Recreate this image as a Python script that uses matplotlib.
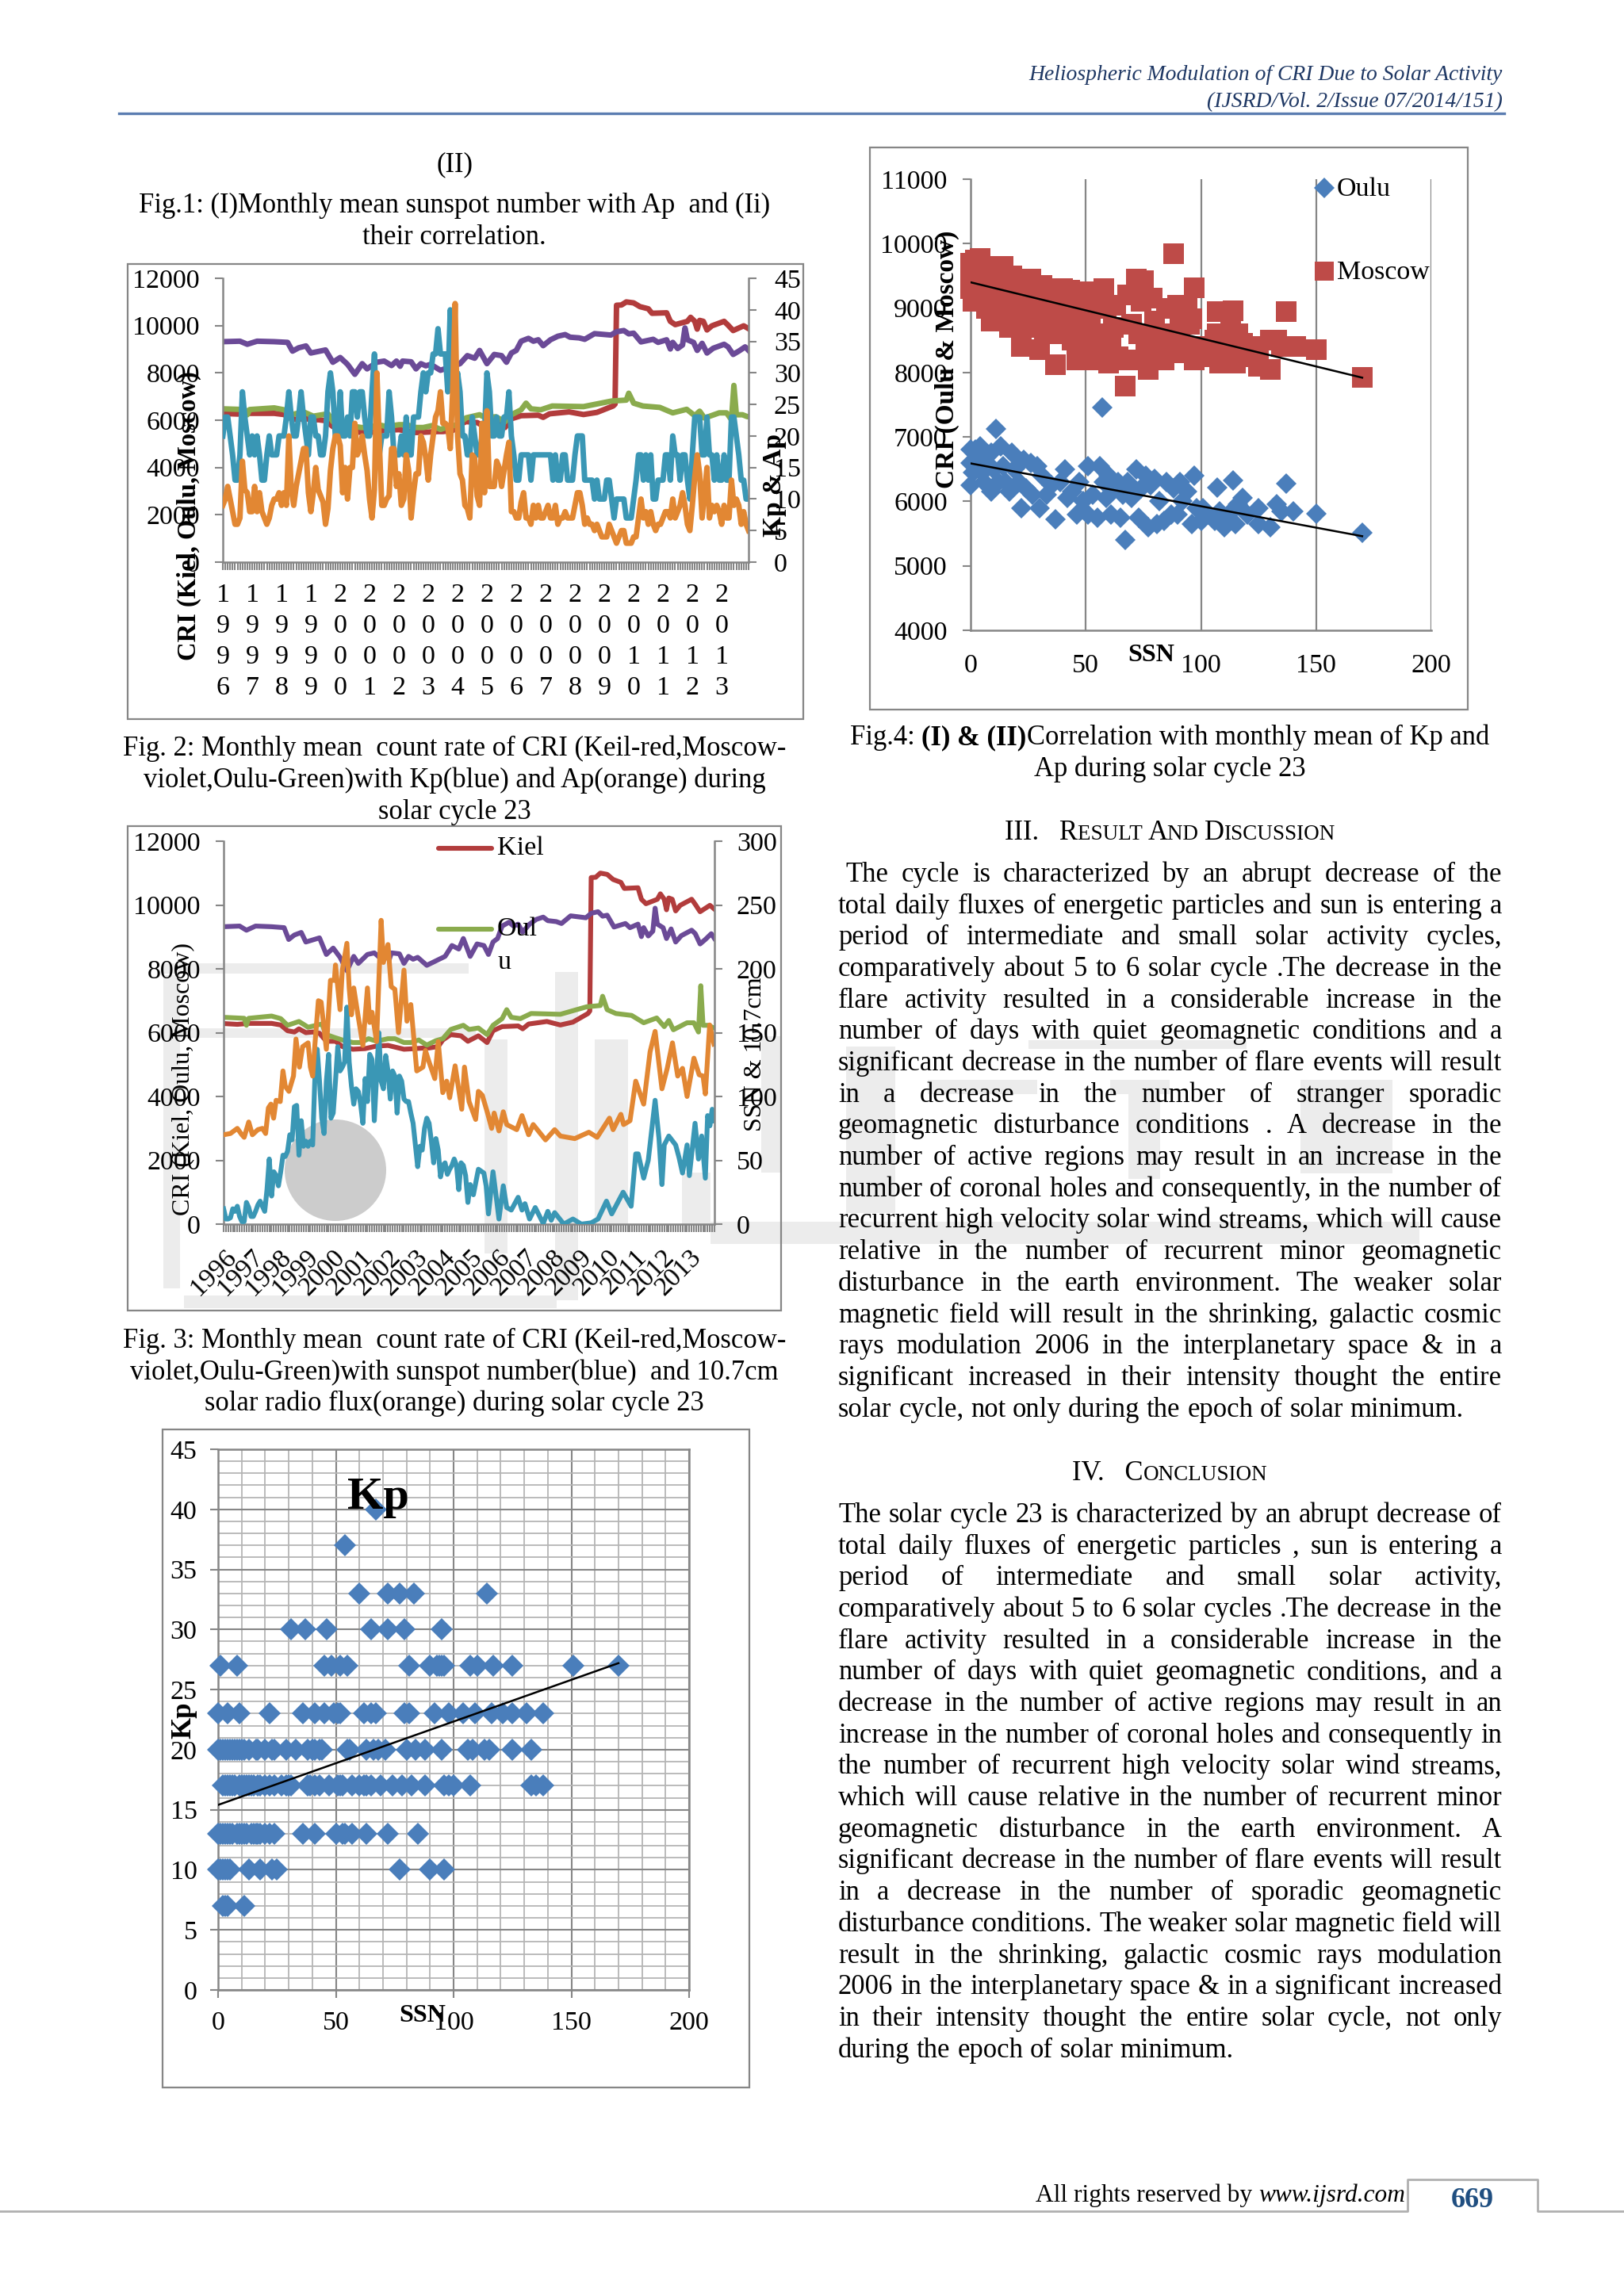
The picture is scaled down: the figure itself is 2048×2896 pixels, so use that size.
import matplotlib
matplotlib.use('Agg')
import matplotlib.pyplot as plt
from matplotlib.patches import Rectangle, Circle
import numpy as np

plt.rcParams['font.family'] = ['Liberation Serif', 'DejaVu Serif']

W, H = 2048, 2896

# ---- monthly values read from Fig. 2 / Fig. 3 (1996 -> 2013)
years = list(range(1996, 2014))

kp = [20,23,23,20,17,13,13,17,27,23,20,17,
      20,17,20,17,13,13,17,20,17,17,17,20,
      20,20,23,27,23,20,20,23,27,23,20,17,
      23,23,20,20,17,17,20,27,30,27,20,20,
      27,20,20,23,20,27,27,23,27,27,23,20,
      20,27,33,20,17,20,20,20,27,23,17,17,
      17,20,17,23,17,17,23,23,23,27,30,27,
      30,30,33,33,37,33,33,33,27,40,33,27,
      30,27,20,20,17,17,23,20,17,17,20,20,
      30,27,20,20,23,20,20,23,23,27,20,17,
      13,13,17,17,17,17,13,17,17,17,17,17,
      17,17,17,13,17,13,13,17,17,13,13,13,
      17,20,20,20,13,13,13,13,10,13,10,10,
      10,13,13,10,7,10,10,10,10,7,7,7,
      10,13,17,17,13,17,13,17,10,10,13,13,
      13,17,17,13,20,17,17,13,17,17,13,10,
      17,23,23,23,17,17,23,17,17,13,17,13,
      13,17,13,13,23,23,20,17,13,13,10,10]

ap = [9,10,12,10,8,6,6,7,16,11.5,11,8,
      8,12,8,11,8,7,6,7,9,10,10,11,
      9,11,9,20,11.5,9,12,14,16,18,18,11,
      8,11,15,11.5,10.5,9.5,6,8.5,14.5,18,20,20,
      18.5,11,15,10,15,15,22,17,18,20,17,14.5,
      10,7,11.5,30,19,9,9,10,10.5,18,18,12,
      14,9,10,17,14.5,7,11,14,14,20,19,16.5,
      13,17,20,23,24,27,22,22,21.5,18,27,41,
      20,14,13,9,8.5,7,17,16.5,10.5,9,22,11,
      24,12,12,12,16,15,12,14.5,17,19,8,8,
      7,7,9.5,11,7,7,6,9,7,9,7,7,
      8,9,7,7,9,6,7,7,8,7,7,7,
      9,11,11,9,6,7,6,6,5,6,5,4,
      4,4,6,5,4,3,4,5,5,3,3,3,
      4,4,7,10,7,8,6,8,6,5,6,6,
      7,8,8,7,10,7,8,9,11,9,6,5,
      9,13.5,17,14,7,11,15,7,9,8,9,8,
      6,9,7,7,13,9,10,9,6,8,6,5]

moscow_m = [0,7,10,14,21,26.5,28.5,31,34,36,42,45,48,51,54,57,59,63,66,69,71,72.5,73.5,77,79,81,83,85,89,
            97,100,103,105,108,111,114,116,118,120,122,125,127,129,131,134,137,140,142,145.7,148,152,158.7,
            161,164,166,168,171,176,178,181.5,183,184,186,188,189,190,192.5,194,196,198,200.5,205,206.6,208.7,211,213.6,215]
moscow = [9320,9340,9210,9340,9320,9290,8920,9060,9140,8840,8970,8450,8650,8360,7940,8390,8170,8450,8500,8310,8500,8280,8500,8470,8170,8390,8300,8360,8110,
          8390,8730,8620,8950,8390,8780,8730,8450,8840,8950,9340,9460,9340,9400,9150,9400,9550,9620,9510,9480,9420,9660,9600,
          9740,9790,9650,9680,9310,9420,9290,9400,9010,9290,9030,9180,9900,9400,9290,8950,9250,8840,9040,9210,9100,8780,8920,9100,8950]

kiel_m = [0,6,11,21,25,28,31,33,36,39,42,45,49,52,56.6,62,67,72,79,84,88,90,94,96,99.5,104,107,111.6,115.4,118,122,129,131,
          133.6,141.6,147.5,153,159.6,160.4,161,163,165,168,170.6,174,175.5,181.5,183,185,190,191.3,193,194,195,196.5,198,200,205,206.6,208.7,213,215]
kiel = [6285,6260,6290,6290,6240,6060,6020,6120,6000,6020,5980,5730,5730,5565,5480,5500,5580,5600,5480,5500,5520,5520,5565,5770,5940,5900,5730,5900,5690,6060,6190,6210,6120,
        6270,6350,6240,6330,6600,6680,10860,10870,11000,10960,10800,10710,10520,10540,10180,10040,10180,10350,10180,9850,10220,10180,9815,9990,10180,10020,9790,9990,9870]

oulu_m = [0,9,10,11,21,25,28,33,37,43,45,48.5,52,56.6,60,63.5,67,72,75,79,82,85.5,89,93,96,99.5,105,107.5,111.6,115.4,118,122,124,126,130,134.7,
          147.5,159,165,166,168,171.8,178.7,184,189.7,193,195,197,203,206,208,209,210,212.5,214.5,215]
oulu = [6480,6450,6230,6450,6520,6440,6230,6350,6170,6270,5940,5850,5770,5690,5690,5810,5730,5810,5810,5690,5690,5770,5610,5750,5810,6100,6230,6100,6145,5940,6230,6440,6720,6480,6440,6600,
        6575,6810,6850,7140,6720,6600,6540,6310,6460,6190,6380,6090,6310,6310,6020,7470,6230,6230,6150,6150]

ssn_m = list(range(109)) + [109.4,111.6,114,115,116,118,119.5,120.6,122.5,124,126,129,130.7,132,134,136.5,140,142,143.5,145,149,153,156.7,161,164,167.7,170,175,178.5,180.5,181.6,184,186,189,190.7,192,193,195,198,199.5,201,203,204,206.5,208,209.4,211,212,213,214,215]
ssn = [12,4,4,5,12,10,14,6,2,2,17,13,6,6,10,15,18,14,10,27,51,22,41,38,30,41,54,53,57,70,66,92,93,54,81,61,65,61,65,62,
       116,137,112,83,71,112,133,83,87,112,139,120,123,127,170,127,108,94,106,104,94,79,114,96,133,129,81,116,150,112,106,132,120,98,120,116,87,116,112,98,96,96,87,79,62,45,61,58,75,83,79,65,48,67,58,37,46,48,39,43,46,51,46,27,48,46,38,17,31,
       23,43,40,30,8,41,20,4,30,13,11,21,11,16,4,13,0.5,10,3,9,0,4,0,1,4,18,8,25,14,55,55,36,50,97,67,31,62,69,62,52,40,62,38,79,51,69,36,85,77,90,81]

f107_m = [0,3,6,8,9,11,12.6,15,17,18.4,19.6,20.7,21.9,23,24.8,26,27,28.6,30.6,31.7,33.2,34.6,37,38,39,40,41.5,42.7,45,46.8,48.5,49,51,52,54,55,56,57,59,61,63,64,65,67,69,70,72,73.4,75,76.6,79,80.3,82,84.6,87.3,88.4,90,92.5,94,96,97.7,99,101.4,104.3,105.5,107.5,
          110.4,111.6,113.3,115.6,117.4,118.5,120.6,122.5,124,128.4,130.7,133.6,135.6,141,145,147.5,153.8,160,163.6,169,170.6,174,175.2,178,180.5,184,186.8,189,192,194.3,196.6,198.9,201,203,206,208.3,210,211,212.9,214.8]
f107 = [70,71,75,70,68,80,70,74,75,71,91,94,83,97,96,120,108,104,116,145,123,139,142,123,116,141,175,174,137,191,191,203,168,199,220,185,164,185,162,140,185,158,166,143,238,205,219,186,184,150,199,159,172,120,123,136,127,114,143,103,112,99,124,90,123,96,
        82,104,101,87,75,87,73,88,78,74,85,70,78,66,74,69,67,72,68,83,74,86,78,81,112,94,135,151,106,122,142,116,122,100,130,117,116,102,156,141]

# ---- Fig. 3 scatter: Kp levels against SSN
kp_levels = [40, 37, 33, 30, 27, 23, 20, 17, 13, 10, 7]
kp_ssn = [[67], [54], [60,72,77,83,114], [31,37,46,65,72,79,95],
          [1,8,45,48,52,55,81,90,93,94,95,96,107,110,117,125,151,170],
          [0,4,9,22,36,41,45,49,51,52,62,65,67,79,81,92,98,104,109,116,121,125,131,138],
          [0,1,2,3,4,5,6,7,8,9,10,11,13,16,17,20,23,24,29,33,38,40,41,43,44,55,56,63,66,68,71,80,84,88,95,106,108,113,115,125,133],
          [2,3,4,5,6,7,9,10,11,12,13,14,15,17,18,20,22,24,27,29,30,31,38,39,41,43,47,51,52,53,57,60,62,63,65,69,74,78,82,88,96,98,100,107,133,135,138],
          [0,1,2,3,4,5,6,8,9,10,11,12,14,15,16,17,18,20,22,24,36,41,50,53,54,57,63,72,85],
          [0,1,2,3,4,5,13,18,23,25,77,90,96],
          [2,3,4,11]]
trend_x = [0, 170]
trend_kp = [15.4, 27.2]
trend_moscow = [9400, 7920]
trend_oulu = [6590, 5460]

# ---- Fig. 4 scatter
moscow_x = [0,0,0,1,2,3,4,5,6,7,8,9,10,11,12,13,14,15,16,17,18,19,20,21,22,23,24,25,26,27,28,30,31,32,33,35,37,38,40,41,42,43,44,45,46,47,48,49,50,51,52,53,54,55,56,57,58,59,60,61,62,63,64,66,67,68,70,71,72,73,74,75,76,77,78,79,80,81,83,84,85,86,88,89,90,91,93,94,95,96,96,97,97,100,102,104,106,107,107,108,110,112,113,114,115,116,118,120,122,125,125,130,130,133,135,137,138,141,150,170]
moscow_y = [9700,9500,9300,9100,9750,9600,9770,9400,9200,9000,9600,8800,9500,9150,9650,9350,9650,9000,9300,8700,9500,9150,9450,8900,8400,9450,8700,9150,9450,8850,9300,8350,9350,8650,9100,8900,8120,8600,9300,8800,9100,9280,8500,8900,8200,8650,9000,8250,8500,9250,8800,8200,9050,9250,8600,8350,9300,9000,8150,8400,8700,9050,8250,8200,7790,9200,8750,8200,9450,8600,9100,9420,8300,8050,8500,9150,8800,8250,8500,8200,9000,8600,9840,8300,9050,8700,8400,9000,8750,8830,8300,9320,8200,8400,8250,8350,8500,8950,8600,8150,8150,8400,8650,8960,8150,8600,8450,8250,8350,8400,8100,8050,8500,8500,8400,8950,8400,8400,8350,7920]
oulu_x = [0,0,0,1,2,3,4,5,6,7,9,9,10,11,12,13,14,15,17,18,19,21,22,23,24,26,27,29,30,31,33,35,37,39,41,42,44,46,47,49,51,51,53,55,56,57,58,59,60,61,62,64,65,66,67,68,70,72,73,74,76,77,78,80,81,82,84,85,87,88,90,91,92,94,96,97,98,100,101,103,106,107,108,110,112,114,115,116,118,120,125,125,130,133,135,137,140,150,170]
oulu_y = [6800,6600,6250,6450,6800,6600,6850,6450,6300,6700,6150,6750,6500,7130,6300,6850,6550,6300,6150,6750,6500,6300,5900,6650,6200,6600,6100,6550,5900,6400,6100,6250,5720,6300,6500,6050,6150,5800,6300,6000,5800,6550,6100,5750,6550,7460,6300,6050,6400,5800,6200,6300,5750,6100,5400,6300,6050,6500,5750,6200,6400,5600,6250,6350,5650,6000,5700,6300,5800,6200,5800,6300,6000,6150,5650,6400,5900,5700,5900,5800,5700,6220,5850,5600,5800,6320,5650,5950,6050,5800,5650,5900,5600,5950,5850,6280,5840,5810,5510]

# ---- page text
body_1 = ["The cycle is characterized by an abrupt decrease of the",
          "total daily fluxes of energetic particles  and  sun is entering a",
          "period of intermediate and small solar activity cycles,",
          "comparatively about 5 to 6 solar cycle .The decrease in the",
          "flare activity resulted in a considerable increase in the",
          "number of days with quiet geomagnetic conditions  and a",
          "significant decrease in the number of flare events will result",
          "in a decrease in the number of stranger sporadic",
          "geomagnetic disturbance conditions . A decrease in the",
          "number of active regions may result in an increase in the",
          "number of coronal holes and consequently, in the number of",
          "recurrent high velocity solar wind streams, which will cause",
          "relative in the number of recurrent minor geomagnetic",
          "disturbance in the earth environment. The weaker solar",
          "magnetic field will result in the shrinking, galactic cosmic",
          "rays modulation 2006 in the interplanetary space & in a",
          "significant increased in their intensity thought the entire",
          "solar cycle, not only during the epoch of solar minimum."]
body_2 = ["The solar cycle 23 is characterized by an abrupt decrease of",
          "total daily fluxes of energetic particles ,  sun is entering a",
          "period of intermediate and small solar activity,",
          "comparatively about 5 to 6 solar cycles .The decrease in the",
          "flare activity resulted in a considerable increase in the",
          "number of days with quiet geomagnetic conditions, and a",
          "decrease in the number of active regions may result in an",
          "increase in the number of coronal holes and consequently in",
          "the number of recurrent high velocity solar wind streams,",
          "which will cause relative in the number of recurrent minor",
          "geomagnetic disturbance in the earth environment.  A",
          "significant decrease in the number of flare events will result",
          "in a decrease in the number of sporadic geomagnetic",
          "disturbance conditions. The weaker solar magnetic field will",
          "result in the shrinking, galactic cosmic rays modulation",
          "2006 in the interplanetary space & in a significant increased",
          "in their intensity thought the entire solar cycle, not only",
          "during the epoch of solar minimum."]

AX = '#868686'
RED, VIOLET, GREEN = '#b23c3c', '#6b4a97', '#8aab4d'
TEAL, ORANGE = '#3a97b5', '#e28733'
DIAMOND, SQUARE = '#4a7ebb', '#be4b48'
TICK = 24.5
BODY = 24.9

fig = plt.figure(figsize=(W / 100, H / 100), dpi=100)
renderer = fig.canvas.get_renderer()


def px_axes(x0, y0, x1, y1, zorder=1):
    # y0 is the top edge, in picture pixels
    a = fig.add_axes([x0 / W, 1 - y1 / H, (x1 - x0) / W, (y1 - y0) / H], zorder=zorder)
    a.patch.set_alpha(0)
    return a


under = px_axes(0, 0, W, H, zorder=0)
over = px_axes(0, 0, W, H, zorder=5)
for a in (under, over):
    a.set_xlim(0, W)
    a.set_ylim(H, 0)
    a.axis('off')


def style(a, sides, tick_pad):
    for s in a.spines:
        a.spines[s].set_visible(s in sides)
        a.spines[s].set_color(AX)
        a.spines[s].set_linewidth(1.8)
    a.tick_params(which='both', color=AX, width=1.5, length=7, labelsize=TICK)
    a.tick_params(axis='y', pad=tick_pad)


def text_width(s, **kw):
    t = over.text(0, 0, s, **kw)
    w = t.get_window_extent(renderer).width
    t.remove()
    return w


def line(s, x0, x1, y, justify=True, size=BODY):
    words = s.split()
    widths = [text_width(w, fontsize=size) for w in words]
    gap = (x1 - x0 - sum(widths)) / (len(words) - 1) if justify else size * 1.389 * 0.25
    x = x0
    for w, wd in zip(words, widths):
        over.text(x, y, w, fontsize=size, va='baseline', color='black')
        x += wd + gap


def runs(parts, y, cx=None, left=None):
    # parts: (text, size, weight, style)
    ws = [text_width(p[0].replace(' ', '\u00a0'), fontsize=p[1], fontweight=p[2], fontstyle=p[3]) for p in parts]
    x = left if left is not None else cx - sum(ws) / 2
    for p, w in zip(parts, ws):
        over.text(x, y, p[0].replace(' ', '\u00a0'), fontsize=p[1], fontweight=p[2], fontstyle=p[3], va='baseline')
        x += w


def centered(s, cx, y, size=BODY):
    over.text(cx, y, s, fontsize=size, ha='center', va='baseline')


def frame(x0, y0, x1, y1):
    under.add_patch(Rectangle((x0, y0), x1 - x0, y1 - y0, fill=False, ec=AX, lw=1.6))


# ---- watermark behind the charts and the text
wm_rects = [(206, 1215, 385, 13), (206, 1230, 21, 395), (200, 1297, 400, 12), (232, 1634, 470, 16),
            (611, 1311, 29, 270), (700, 1226, 29, 414), (750, 1311, 42, 233), (860, 1479, 36, 65),
            (960, 1307, 25, 172), (896, 1541, 894, 28),
            (1297, 1312, 275, 11), (1067, 1320, 62, 210), (1170, 1362, 138, 18), (1400, 1362, 75, 18),
            (1423, 1362, 40, 125), (1640, 1362, 116, 118)]
for r in wm_rects:
    under.add_patch(Rectangle((r[0], r[1]), r[2], r[3], fc='#ececec', ec='none'))
under.add_patch(Circle((423, 1476), 64, fc='#cccccc', ec='none'))

# ---- header
over.text(1895, 101, "Heliospheric Modulation of CRI Due to Solar Activity", fontsize=19.9,
          fontstyle='italic', ha='right', color='#1f3864')
over.text(1895, 135, "(IJSRD/Vol. 2/Issue 07/2014/151)", fontsize=19.9, fontstyle='italic',
          ha='right', color='#1f3864')
under.plot([150, 1897], [143, 143], color='#5b7db1', lw=2.4)

# ---- left column captions
centered("(II)", 573, 216)
centered("Fig.1: (I)Monthly mean sunspot number with Ap  and (Ii)", 573, 268)
centered("their correlation.", 573, 308)
centered("Fig. 2: Monthly mean  count rate of CRI (Keil-red,Moscow-", 573, 953)
centered("violet,Oulu-Green)with Kp(blue) and Ap(orange) during", 573, 993)
centered("solar cycle 23", 573, 1033)
centered("Fig. 3: Monthly mean  count rate of CRI (Keil-red,Moscow-", 573, 1700)
centered("violet,Oulu-Green)with sunspot number(blue)  and 10.7cm", 573, 1740)
centered("solar radio flux(orange) during solar cycle 23", 573, 1779)

# ---- right column
runs([("Fig.4: ", BODY, 'normal', 'normal'), ("(I) & (II)", BODY, 'bold', 'normal'),
      ("Correlation with monthly mean of Kp and", BODY, 'normal', 'normal')], 939, cx=1475)
centered("Ap during solar cycle 23", 1475, 979)

SC = 19.5
runs([("III.   R", BODY, 'normal', 'normal'), ("ESULT ", SC, 'normal', 'normal'), ("A", BODY, 'normal', 'normal'),
      ("ND ", SC, 'normal', 'normal'), ("D", BODY, 'normal', 'normal'), ("ISCUSSION", SC, 'normal', 'normal')], 1059, cx=1475)
runs([("IV.   C", BODY, 'normal', 'normal'), ("ONCLUSION", SC, 'normal', 'normal')], 1867, cx=1475)

y0 = 1112
for i, s in enumerate(body_1):
    x_left = 1066 if i == 0 else 1057
    line(s, x_left, 1894, y0 + i * 39.68, justify=i < len(body_1) - 1)
y0 = 1920
for i, s in enumerate(body_2):
    line(s, 1057, 1894, y0 + i * 39.68, justify=i < len(body_2) - 1)

# ---- footer
runs([("All rights reserved by ", 22.6, 'normal', 'normal'), ("www.ijsrd.com", 22.6, 'normal', 'italic')], 2777, left=1306)
over.text(1857, 2784, "669", fontsize=26, fontweight='bold', color='#1f4e80', ha='center')
under.plot([0, 1775, 1775, 1939, 1939, W], [2789, 2789, 2749, 2749, 2789, 2789], color='#b0b0b0', lw=2)

# ---- Fig. 2 (top left line chart)
frame(161, 333, 1013, 907)
ax1 = px_axes(281, 351, 944, 709)
ax1.plot(kiel_m, kiel, color=RED, lw=5)
ax1.plot(oulu_m, oulu, color=GREEN, lw=5)
ax1.plot(moscow_m, moscow, color=VIOLET, lw=5)
ax1.set_xlim(0, 215)
ax1.set_ylim(0, 12000)
ax1.set_yticks(range(0, 12001, 2000))
ax1.set_xticks(range(0, 216, 12))
ax1.set_xticks(range(216), minor=True)
ax1.set_xticklabels(['\n'.join(str(y)) for y in years], linespacing=1.37)
style(ax1, ['left', 'bottom'], 14)
ax1.tick_params(axis='x', pad=12)
ax1b = ax1.twinx()
ax1b.patch.set_alpha(0)
ax1b.plot(range(len(kp)), kp, color=TEAL, lw=5)
ax1b.plot(range(len(ap)), ap, color=ORANGE, lw=5)
ax1b.set_ylim(0, 45)
ax1b.set_yticks(range(0, 46, 5))
style(ax1b, ['right'], 16)
over.text(238, 651, "CRI (Kiel, Oulu, Moscow)", rotation=90, fontsize=23.5, fontweight='bold', ha='center', va='center')
over.text(977, 612, "Kp & Ap", rotation=90, fontsize=24, fontweight='bold', ha='center', va='center')

# ---- Fig. 3 (second line chart)
frame(161, 1042, 985, 1653)
ax2 = px_axes(282, 1061, 901, 1544)
ax2.plot(kiel_m, kiel, color=RED, lw=4.4)
ax2.plot(moscow_m, moscow, color=VIOLET, lw=4.4)
ax2.plot(oulu_m, oulu, color=GREEN, lw=4.4)
ax2.set_xlim(0, 215)
ax2.set_ylim(0, 12000)
ax2.set_yticks(range(0, 12001, 2000))
ax2.set_xticks(range(0, 216, 12))
ax2.set_xticks(range(216), minor=True)
ax2.set_xticklabels(years, rotation=45, ha='right', rotation_mode='anchor')
style(ax2, ['left', 'bottom'], 14)
ax2.tick_params(axis='x', pad=12)
ax2b = ax2.twinx()
ax2b.patch.set_alpha(0)
ax2b.plot(ssn_m, ssn, color=TEAL, lw=4.4)
ax2b.plot(f107_m, f107, color=ORANGE, lw=4.4)
ax2b.set_ylim(0, 300)
ax2b.set_yticks(range(0, 301, 50))
style(ax2b, ['right'], 13)
over.plot([553, 620], [1070, 1070], color=RED, lw=4.4, solid_capstyle='round')
over.plot([553, 620], [1172, 1172], color=GREEN, lw=4.4, solid_capstyle='round')
over.text(627, 1070, "Kiel", fontsize=TICK, va='center')
over.text(627, 1172, "Oul", fontsize=TICK, va='center')
over.text(627, 1214, "u", fontsize=TICK, va='center')
over.text(231, 1361, "CRI (Kiel, Oulu, Moscow)", rotation=90, fontsize=23, ha='center', va='center')
over.text(952, 1330, "SSN & 10.7cm", rotation=90, fontsize=23, ha='center', va='center')

# ---- Kp against SSN
frame(205, 1803, 945, 2633)
ax3 = px_axes(275, 1828, 869, 2510)
for lev, xs in zip(kp_levels, kp_ssn):
    ax3.plot(xs, [lev] * len(xs), ls='none', marker='D', ms=14, color=DIAMOND, mew=0, zorder=3, clip_on=False)
ax3.plot(trend_x, trend_kp, color='black', lw=1.8, zorder=4)
ax3.set_xlim(0, 200)
ax3.set_ylim(0, 45)
ax3.set_xticks(range(0, 201, 50))
ax3.set_yticks(range(0, 46, 5))
ax3.set_xticks(range(0, 201, 10), minor=True)
ax3.set_yticks(range(0, 46), minor=True)
ax3.grid(which='minor', color='#b5b5b5', lw=1.3, zorder=0)
ax3.grid(which='major', color='#868686', lw=1.5, zorder=1)
ax3.set_axisbelow(True)
style(ax3, ['left', 'bottom', 'top', 'right'], 12)
ax3.tick_params(which='minor', length=0)
ax3.tick_params(axis='x', pad=12)
over.text(477, 1889, "Kp", fontsize=42, fontweight='bold', ha='center', va='center')
over.text(232, 2170, "Kp", rotation=90, fontsize=25, fontweight='bold', ha='center', va='center')
over.text(533, 2542, "SSN", fontsize=23, fontweight='bold', ha='center', va='center')

# ---- Oulu and Moscow against SSN
frame(1097, 186, 1851, 895)
ax4 = px_axes(1224, 226, 1805, 795)
ax4.plot(moscow_x, moscow_y, ls='none', marker='s', ms=19, color=SQUARE, mew=0, zorder=3, clip_on=False)
ax4.plot(oulu_x, oulu_y, ls='none', marker='D', ms=13.5, color=DIAMOND, mew=0, zorder=3, clip_on=False)
ax4.plot(trend_x, trend_moscow, color='black', lw=1.8, zorder=4)
ax4.plot(trend_x, trend_oulu, color='black', lw=1.8, zorder=4)
ax4.set_xlim(0, 200)
ax4.set_ylim(4000, 11000)
ax4.set_xticks(range(0, 201, 50))
ax4.set_yticks(range(4000, 11001, 1000))
ax4.grid(axis='x', color='#868686', lw=1.6, zorder=0)
ax4.set_axisbelow(True)
style(ax4, ['left', 'bottom'], 14)
ax4.tick_params(axis='x', length=0, pad=21)
over.plot([1670], [237], marker='D', ms=13, color=DIAMOND, mew=0)
over.plot([1670], [342], marker='s', ms=17, color=SQUARE, mew=0)
over.text(1686, 239, "Oulu", fontsize=TICK, va='center')
over.text(1686, 344, "Moscow", fontsize=TICK, va='center')
over.text(1194, 453, "CRI (Oulu & Moscow)", rotation=90, fontsize=24, fontweight='bold', ha='center', va='center')
over.text(1452, 827, "SSN", fontsize=23, fontweight='bold', ha='center', va='center')

over.set_xlim(0, W)
over.set_ylim(H, 0)
fig.savefig('out.png', dpi=100)
